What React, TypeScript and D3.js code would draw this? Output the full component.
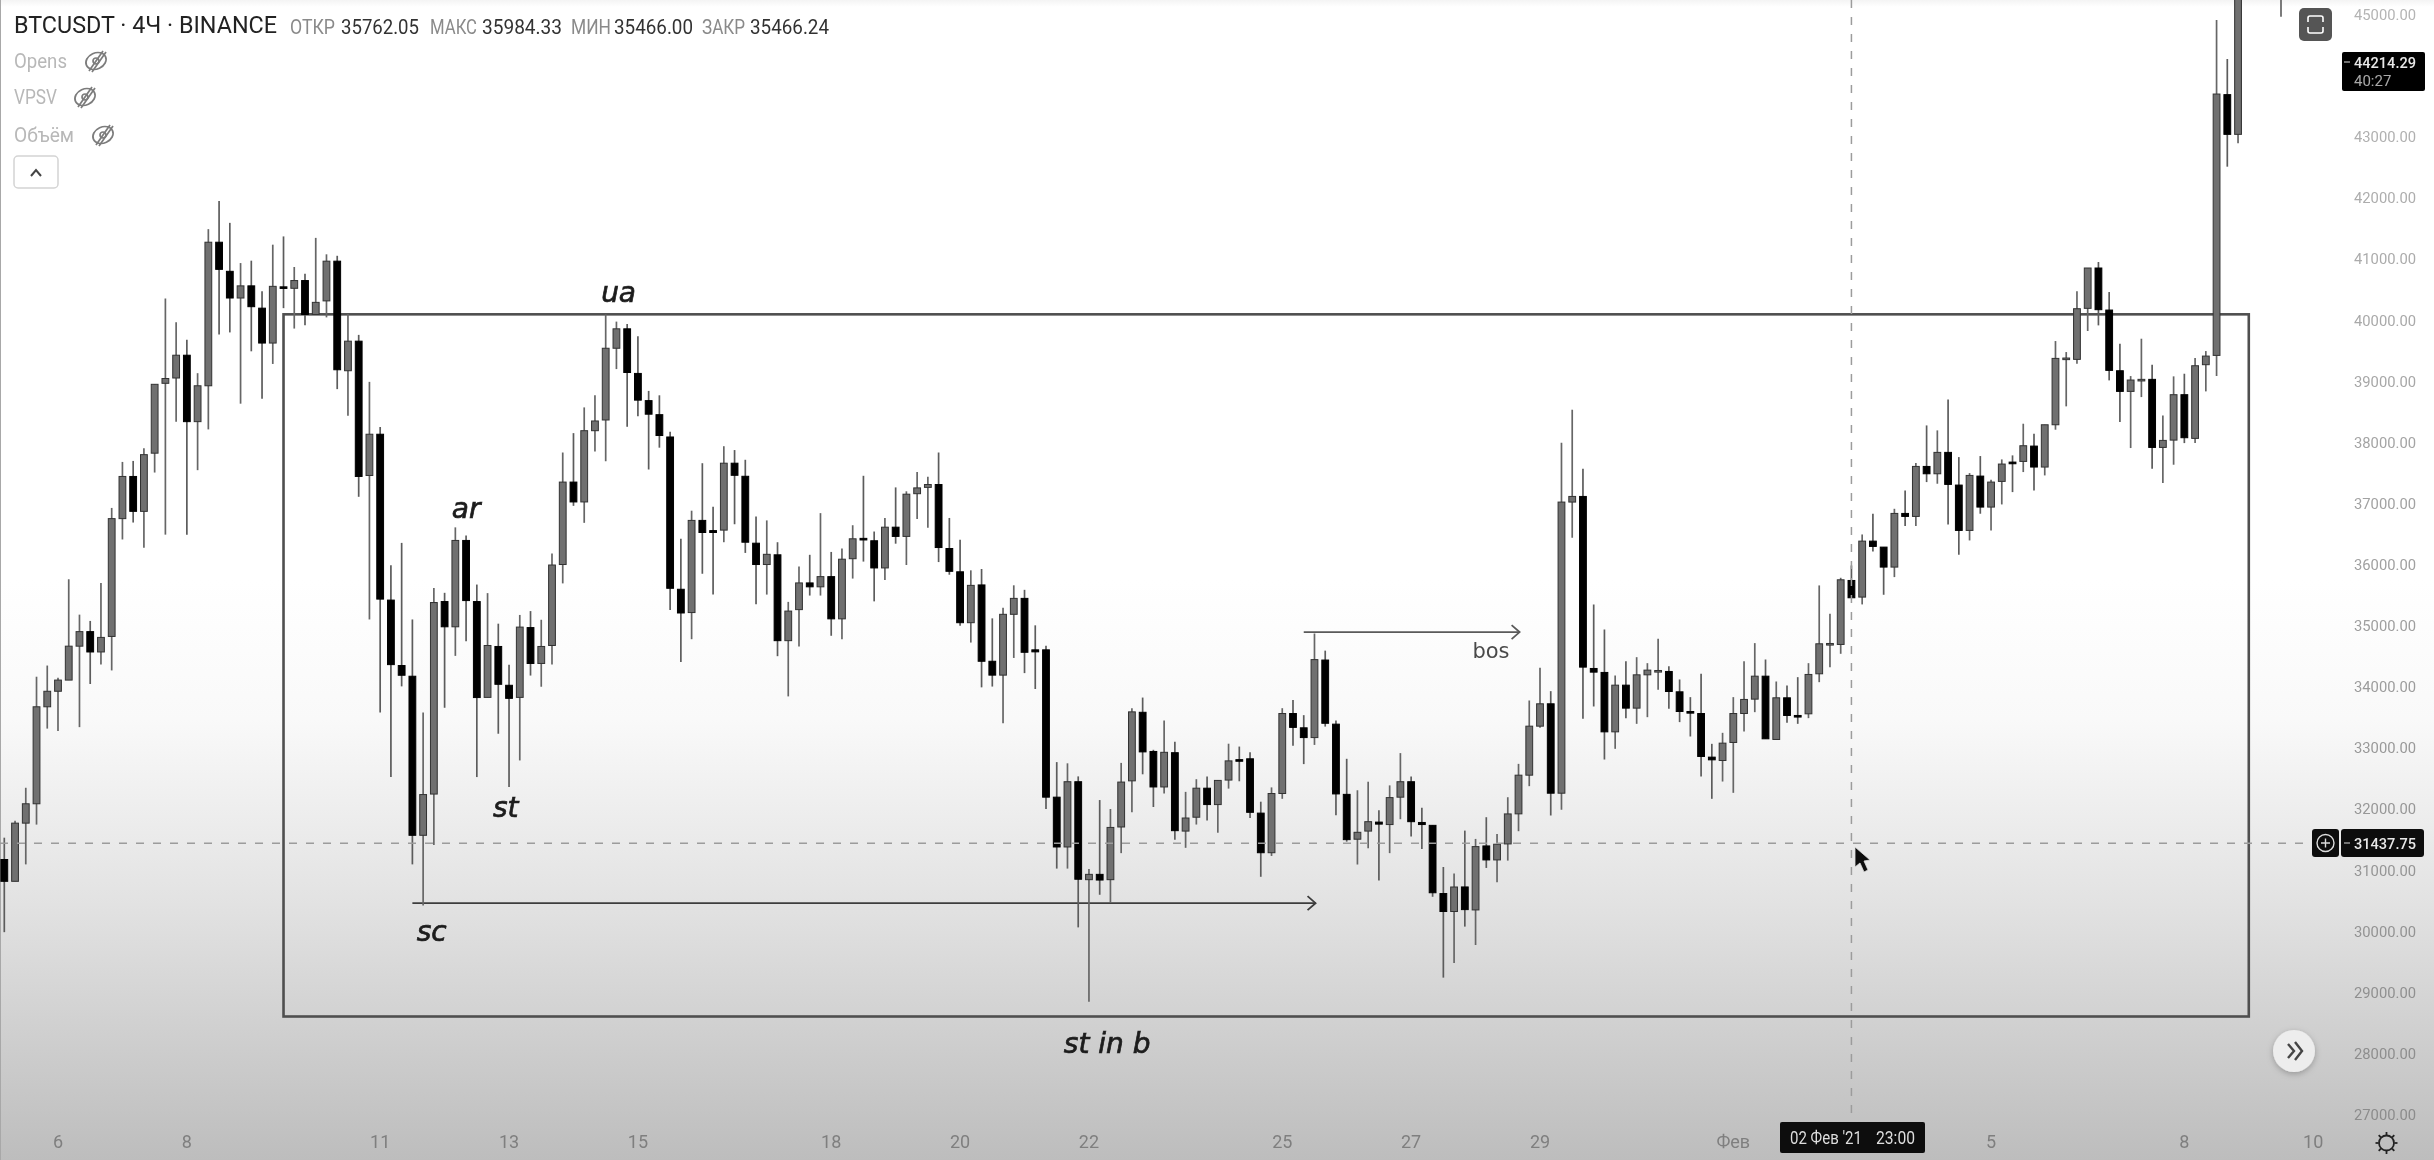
import * as d3 from "d3";

const WIDTH = 2434;
const HEIGHT = 1160;

// 4h candles, one value per bar
const opens = [
  31189, 30832, 31784, 32101, 33688, 33942, 34125, 34680, 34918, 34585,
  34839, 36767, 37457, 36886, 37838, 38981, 39068, 39441, 38354, 38941,
  41290, 40814, 40377, 40576, 40211, 39640, 40560, 40536, 40663, 40108,
  40330, 40980, 39187, 39671, 37473, 38148, 35434, 34363, 34188, 31585,
  32260, 35410, 34997, 36410, 35410, 33842, 34675, 34040, 33842, 34984,
  34397, 34691, 36016, 37365, 37040, 38206, 38381, 39555, 39873, 39143,
  38698, 38468, 38103, 35611, 35230, 36738, 36571, 36579, 37674, 37460,
  36365, 36016, 36175, 34770, 35278, 35715, 35651, 35818, 35127, 36111,
  36444, 36405, 35960, 36627, 36476, 37175, 37278, 37325, 36278, 35897,
  35064, 35682, 34433, 34206, 35201, 35462, 34620, 34620, 32209, 31394,
  32462, 30859, 30946, 30859, 31721, 32476, 33598, 32957, 32376, 32937,
  31654, 31881, 32356, 32088, 32489, 32823, 32837, 31948, 31300, 32269,
  33578, 33344, 33184, 34453, 33404, 32255, 31521, 31654, 31801, 31761,
  32209, 32462, 31795, 31748, 30632, 30338, 30740, 30364, 31411, 31182,
  31444, 31936, 32569, 33371, 33737, 32274, 37038, 37130, 34315, 34250,
  33278, 34042, 33666, 34211, 34266, 34266, 33933, 33611, 33578, 32864,
  32809, 33104, 33578, 33813, 34189, 33153, 33835, 33546, 33573, 34228,
  34713, 34708, 35755, 35483, 36399, 36301, 35974, 36852, 36803, 37621,
  37501, 37851, 37316, 36574, 37463, 36956, 37376, 37692, 37703, 37954,
  37611, 38303, 39378, 39373, 40208, 40868, 40180, 39187, 38849, 39035,
  39046, 37932, 38052, 38795, 38080, 39286, 39438, 43705, 43055, 46400,
  47000, 47200, 46800,
];
const highs = [
  31546, 31823, 32363, 34180, 34363, 34164, 35775, 35196, 35093, 35712,
  36942, 37695, 37711, 37918, 38965, 40369, 39981, 39695, 39147, 41504,
  41964, 41607, 40949, 40988, 40489, 41250, 41385, 40885, 40774, 41361,
  41092, 41068, 40115, 39774, 39005, 38267, 36005, 36370, 35117, 33593,
  35632, 35553, 36624, 36489, 35688, 35548, 35048, 34374, 35191, 35254,
  35112, 36198, 37849, 38166, 38587, 38785, 40111, 39991, 39952, 39753,
  38857, 38785, 38190, 36437, 36897, 37674, 36960, 37952, 37889, 37730,
  36802, 36738, 36381, 35405, 35984, 36175, 36857, 36222, 36278, 36659,
  37468, 36556, 36778, 37278, 37214, 37532, 37452, 37849, 36778, 36421,
  35921, 35943, 35135, 35308, 35676, 35602, 35021, 34687, 32783, 32763,
  32549, 31033, 32162, 32015, 32770, 33665, 33839, 32984, 33465, 33117,
  32296, 32503, 32549, 32483, 33084, 33037, 32943, 32135, 32369, 33665,
  33798, 33551, 34887, 34607, 33465, 32837, 32322, 32462, 31995, 32402,
  32930, 32549, 32035, 31748, 31066, 30959, 31662, 31526, 31881, 31608,
  32208, 32754, 33791, 34326, 33944, 38009, 38549, 37583, 35362, 34953,
  34200, 34435, 34500, 34402, 34800, 34353, 34135, 33846, 34228, 33082,
  33262, 33846, 34435, 34730, 34462, 34102, 34037, 34173, 34402, 35674,
  35210, 35799, 36001, 36508, 36847, 36301, 36928, 37229, 37676, 38292,
  38211, 38718, 37774, 37512, 37791, 37403, 37736, 37802, 38320, 38156,
  38303, 39673, 39493, 40486, 40868, 40966, 40475, 39629, 39100, 39711,
  39285, 38456, 39095, 39138, 39395, 39509, 44927, 44288, 46800, 47300,
  47600, 47500, 47100,
];
const lows = [
  30000, 30832, 31109, 31760, 33331, 33292, 34125, 33355, 34061, 34378,
  34283, 36426, 36703, 36291, 37521, 36505, 38354, 36505, 37560, 38227,
  39782, 39814, 38648, 39505, 38727, 39298, 40211, 39877, 39933, 40108,
  40060, 38886, 38449, 37124, 35117, 33593, 32538, 34022, 31109, 30435,
  31427, 33672, 34521, 34759, 32538, 33842, 33247, 32374, 32810, 34199,
  34016, 34382, 35707, 36976, 36698, 37865, 37706, 39214, 38270, 38444,
  37571, 37928, 35270, 34421, 34794, 35865, 35524, 36381, 36675, 36206,
  35365, 35524, 34516, 33858, 34675, 35508, 35508, 34850, 34794, 35786,
  36064, 35413, 35762, 36357, 36008, 36762, 36619, 36056, 35849, 35016,
  34739, 34006, 34019, 33418, 34487, 34239, 33979, 32015, 31040, 31040,
  30078, 28862, 30612, 30492, 31293, 31962, 32583, 32048, 32269, 31514,
  31380, 31761, 31828, 31627, 32349, 32469, 31868, 30906, 31247, 32182,
  33050, 32750, 33064, 33364, 31915, 31481, 31107, 31373, 30846, 31293,
  31848, 31567, 31360, 30579, 29256, 29496, 30091, 29790, 31051, 30817,
  31171, 31652, 32389, 33345, 31909, 32002, 36454, 33491, 33693, 32825,
  33000, 33502, 33409, 33518, 33966, 33655, 33437, 33202, 32547, 32182,
  32465, 32280, 33284, 33600, 33164, 33153, 33426, 33409, 33502, 34091,
  34337, 34555, 35472, 35363, 36230, 35521, 35810, 36645, 36645, 37365,
  37338, 36672, 36176, 36410, 36847, 36574, 36999, 37201, 37529, 37229,
  37474, 38222, 38604, 39302, 39837, 39929, 39029, 38347, 37922, 38756,
  37583, 37349, 37649, 38003, 38003, 38849, 39100, 42526, 42908, 46100,
  46500, 46300, 44981,
];
const closes = [
  30832, 31784, 32101, 33688, 33942, 34125, 34680, 34918, 34585, 34823,
  36767, 37457, 36886, 37814, 38965, 39060, 39441, 38354, 38941, 41290,
  40846, 40377, 40576, 40235, 39640, 40568, 40536, 40663, 40108, 40306,
  40980, 39203, 39671, 37457, 38148, 35450, 34378, 34204, 31585, 32252,
  35394, 34997, 36410, 35426, 33839, 34691, 34056, 33826, 34992, 34397,
  34675, 36008, 37365, 37040, 38206, 38365, 39555, 39873, 39158, 38706,
  38476, 38127, 35627, 35223, 36738, 36540, 36540, 37674, 37476, 36381,
  36016, 36183, 34770, 35254, 35715, 35651, 35818, 35127, 36103, 36437,
  36421, 35960, 36627, 36476, 37167, 37270, 37325, 36294, 35905, 35064,
  35675, 34433, 34206, 35201, 35462, 34580, 34587, 32209, 31394, 32462,
  30866, 30946, 30853, 31714, 32456, 33605, 32950, 32376, 32943, 31661,
  31868, 32356, 32088, 32483, 32803, 32803, 31961, 31300, 32269, 33578,
  33351, 33184, 34460, 33418, 32262, 31514, 31634, 31808, 31768, 32202,
  32462, 31808, 31761, 30645, 30338, 30739, 30369, 31400, 31182, 31439,
  31935, 32569, 33371, 33737, 32274, 37038, 37130, 34337, 34255, 33278,
  34042, 33666, 34211, 34288, 34282, 33938, 33611, 33584, 32875, 32820,
  33093, 33578, 33808, 34189, 33164, 33835, 33546, 33529, 34217, 34719,
  34724, 35766, 35472, 36399, 36312, 35974, 36852, 36803, 37621, 37501,
  37851, 37327, 36574, 37474, 36956, 37365, 37660, 37665, 37960, 37611,
  38303, 39389, 39395, 40202, 40868, 40186, 39193, 38849, 39035, 39046,
  37932, 38047, 38795, 38091, 39269, 39427, 43715, 43055, 46500, 47000,
  47200, 46800, 46900,
];

const priceTicks = [45000, 43000, 42000, 41000, 40000, 39000, 38000, 37000, 36000, 35000, 34000, 33000, 32000, 31000, 30000, 29000, 28000, 27000];
const timeTicks: [number, string][] = [[5, "6"], [17, "8"], [35, "11"], [47, "13"], [59, "15"], [77, "18"], [89, "20"], [101, "22"], [119, "25"], [131, "27"], [143, "29"], [161, "Фев"], [185, "5"], [203, "8"], [215, "10"]];

const ohlcHeader = [
  { label: "ОТКР", lx: 290, lw: 45, value: "35762.05", vx: 341, vw: 78 },
  { label: "МАКС", lx: 430, lw: 47, value: "35984.33", vx: 482, vw: 80 },
  { label: "МИН", lx: 571, lw: 40, value: "35466.00", vx: 614, vw: 79 },
  { label: "ЗАКР", lx: 702, lw: 43, value: "35466.24", vx: 750, vw: 79 },
];
const legendRows = [
  { name: "Opens", y: 61, w: 53, icon: 96 },
  { name: "VPSV", y: 97, w: 43, icon: 85 },
  { name: "Объём", y: 135, w: 60, icon: 103 },
];

// wyckoff range and markup notes, in candle index / price
const rangeBox = { i0: 26, i1: 209, top: 40110, bottom: 28620 };
const scArrow = { i0: 38, i1: 122.1, price: 30475 };
const bosArrow = { i0: 121, i1: 141.1, price: 34910 };
const notes = [
  { text: "ua", i: 57.2, price: 40320 },
  { text: "ar", i: 43, price: 36780 },
  { text: "st", i: 46.7, price: 31884 },
  { text: "sc", i: 39.8, price: 29851 },
  { text: "st in b", i: 102.7, price: 28030 },
];
const crossPrice = 31437.75;
const crossIndex = 172;

const x = d3.scaleLinear().domain([0, 212]).range([4.3, 2281]);
const y = d3.scaleLinear().domain([27000, 45000]).range([1115.5, 15.5]);

const NARROW = "'Liberation Sans Narrow', Roboto, sans-serif";
const SANS = "Roboto, sans-serif";
const NOTE = "'DejaVu Sans', sans-serif";

const bars = opens.map((o, i) => ({ i, o, h: highs[i], l: lows[i], c: closes[i] }));

function Arrow({ a, color }: { a: { i0: number; i1: number; price: number }; color: string }) {
  const ex = x(a.i1);
  const ey = y(a.price);
  return (
    <g fill="none" stroke={color} strokeWidth={1.8}>
      <line x1={x(a.i0)} x2={ex} y1={ey} y2={ey} />
      <path d={`M${ex - 8},${ey - 7}L${ex},${ey}L${ex - 8},${ey + 7}`} />
    </g>
  );
}

function EyeOff({ cx, cy }: { cx: number; cy: number }) {
  return (
    <g fill="none" stroke="#7c7c7c" strokeWidth={1.7} transform={`translate(${cx},${cy})`}>
      <ellipse cx={0} cy={0} rx={10.5} ry={8} transform="rotate(-25)" />
      <circle r={3} />
      <line x1={-7} y1={10} x2={7} y2={-10} />
      <line x1={-4} y1={11} x2={10} y2={-9} />
    </g>
  );
}

export default function App() {
  const axisColor = d3.scaleLinear<string>().domain([15, 1115]).range(["#b4b4b4", "#8c8c8c"]);
  return (
    <svg width={WIDTH} height={HEIGHT} style={{ position: "absolute", left: 0, top: 0, display: "block" }}>
      <defs>
        <linearGradient id="bg" x1="0" y1="0" x2="0" y2="1">
          <stop offset="0" stopColor="#f4f4f4" />
          <stop offset="0.006" stopColor="#ffffff" />
          <stop offset="0.5" stopColor="#ffffff" />
          <stop offset="0.62" stopColor="#f9f9f9" />
          <stop offset="0.69" stopColor="#efefef" />
          <stop offset="0.78" stopColor="#e2e2e2" />
          <stop offset="0.875" stopColor="#d2d2d2" />
          <stop offset="1" stopColor="#bdbdbd" />
        </linearGradient>
        <filter id="soft" x="0" y="0" width="100%" height="100%" filterUnits="userSpaceOnUse">
          <feGaussianBlur stdDeviation="0.55" />
        </filter>
        <filter id="shadow" x="-40%" y="-40%" width="180%" height="180%">
          <feDropShadow dx="0" dy="2" stdDeviation="3" floodColor="#000" floodOpacity="0.25" />
        </filter>
      </defs>
      <rect width={WIDTH} height={HEIGHT} fill="url(#bg)" />
      <line x1={0.5} x2={0.5} y1={0} y2={HEIGHT} stroke="#a8a8a8" />

      <g filter="url(#soft)">
        {/* range box and arrows sit under the candles */}
        <rect
          x={x(rangeBox.i0)}
          y={y(rangeBox.top)}
          width={x(rangeBox.i1) - x(rangeBox.i0)}
          height={y(rangeBox.bottom) - y(rangeBox.top)}
          fill="none"
          stroke="#4f4f4f"
          strokeWidth={2.6}
        />
        <Arrow a={scArrow} color="#3c3c3c" />
        <Arrow a={bosArrow} color="#5a5a5a" />

        {bars.map((d) => {
          const up = d.c >= d.o;
          const top = y(Math.max(d.o, d.c));
          const bot = y(Math.min(d.o, d.c));
          return (
            <g key={d.i}>
              <line x1={x(d.i)} x2={x(d.i)} y1={y(d.h)} y2={y(d.l)} stroke={up ? "#666" : "#5c5c5c"} strokeWidth={1.7} />
              <rect
                x={x(d.i) - 3.4}
                y={top}
                width={6.8}
                height={Math.max(bot - top, 1.6)}
                fill={up ? "#6f6f6f" : "#000"}
                stroke={up ? "#333" : "#000"}
                strokeWidth={1}
              />
            </g>
          );
        })}

        {/* crosshair */}
        <line x1={0} x2={2312} y1={y(crossPrice) - 1} y2={y(crossPrice) - 1} stroke="#9c9c9c" strokeWidth={1.5} strokeDasharray="8 9" />
        <line x1={x(crossIndex)} x2={x(crossIndex)} y1={0} y2={1122} stroke="#9c9c9c" strokeWidth={1.5} strokeDasharray="8 9" />

        {notes.map((n) => (
          <text
            key={n.text}
            x={x(n.i)}
            y={y(n.price)}
            textAnchor="middle"
            fontFamily={NOTE}
            fontStyle="italic"
            fontSize={28}
            fill="#1c1c1c"
            stroke="#1c1c1c"
            strokeWidth={0.7}
          >
            {n.text}
          </text>
        ))}
        <text x={1491} y={y(bosArrow.price) + 26} textAnchor="middle" fontFamily={NOTE} fontSize={21} fill="#4a4a4a">
          bos
        </text>

        {/* header */}
        <text x={14} y={33} fontFamily={NARROW} fontSize={24} fill="#222" textLength={263} lengthAdjust="spacingAndGlyphs">
          BTCUSDT · 4Ч · BINANCE
        </text>
        {ohlcHeader.map((h) => (
          <g key={h.label} fontFamily={NARROW} fontSize={20}>
            <text x={h.lx} y={34} fill="#8a8a8a" textLength={h.lw} lengthAdjust="spacingAndGlyphs">
              {h.label}
            </text>
            <text x={h.vx} y={34} fill="#333" textLength={h.vw} lengthAdjust="spacingAndGlyphs">
              {h.value}
            </text>
          </g>
        ))}
        {legendRows.map((r) => (
          <g key={r.name}>
            <text x={14} y={r.y + 7} fontFamily={NARROW} fontSize={20} fill="#b8b8b8" textLength={r.w} lengthAdjust="spacingAndGlyphs">
              {r.name}
            </text>
            <EyeOff cx={r.icon} cy={r.y} />
          </g>
        ))}
        <rect x={14} y={156} width={44} height={32} rx={4} fill="#fff" stroke="#d4d4d4" strokeWidth={1.5} />
        <path d="M31,176L36,170L41,176" fill="none" stroke="#444" strokeWidth={2} />

        {/* price axis */}
        {priceTicks.map((t) => (
          <text key={t} x={2354} y={y(t) + 4.5} fontFamily={SANS} fontSize={15.5} fill={axisColor(y(t))} textLength={62} lengthAdjust="spacingAndGlyphs">
            {t.toFixed(2)}
          </text>
        ))}

        {/* time axis */}
        {timeTicks.map(([i, label]) => (
          <text key={label + i} x={x(i)} y={1148} textAnchor="middle" fontFamily={NARROW} fontSize={18} fill="#7f7f7f">
            {label}
          </text>
        ))}

        {/* fullscreen button */}
        <rect x={2299} y={8} width={33} height={33} rx={5} fill="#555" />
        <path d="M2308,22V18Q2308,16 2310,16H2321Q2323,16 2323,18V22M2308,27V31Q2308,33 2310,33H2321Q2323,33 2323,31V27" fill="none" stroke="#fff" strokeWidth={1.6} />

        {/* last price */}
        <rect x={2342} y={52} width={83} height={39} rx={2} fill="#050505" />
        <line x1={2344} x2={2350} y1={62} y2={62} stroke="#bbb" strokeWidth={1.2} />
        <text x={2354} y={68} fontFamily={SANS} fontSize={15} fontWeight={500} fill="#e8e8e8" textLength={62} lengthAdjust="spacingAndGlyphs">
          44214.29
        </text>
        <text x={2354} y={86} fontFamily={SANS} fontSize={15} fill="#a8a8a8">
          40:27
        </text>

        {/* crosshair price label */}
        <rect x={2312} y={829} width={27} height={28} rx={3} fill="#0c0c0c" />
        <rect x={2341} y={829} width={83} height={28} rx={3} fill="#0c0c0c" />
        <circle cx={2325.5} cy={843} r={8.5} fill="none" stroke="#ddd" strokeWidth={1.4} />
        <path d="M2321,843H2330M2325.5,838.5V847.5" stroke="#ddd" strokeWidth={1.4} />
        <line x1={2344} x2={2350} y1={843} y2={843} stroke="#bbb" strokeWidth={1.2} />
        <text x={2354} y={849} fontFamily={SANS} fontSize={15} fontWeight={500} fill="#e8e8e8" textLength={62} lengthAdjust="spacingAndGlyphs">
          31437.75
        </text>

        {/* crosshair date label */}
        <rect x={1780} y={1122} width={145} height={31} rx={2} fill="#0c0c0c" />
        <text x={1790} y={1144} fontFamily={NARROW} fontSize={18} fill="#ddd" textLength={72} lengthAdjust="spacingAndGlyphs">
          02 Фев '21
        </text>
        <text x={1876} y={1144} fontFamily={NARROW} fontSize={18} fill="#ddd" textLength={39} lengthAdjust="spacingAndGlyphs">
          23:00
        </text>

        {/* scroll to realtime */}
        <circle cx={2294} cy={1051} r={21} fill="#ededed" filter="url(#shadow)" />
        <path d="M2288,1044L2294,1051L2288,1058M2295,1042L2302,1051L2295,1060" fill="none" stroke="#444" strokeWidth={2.4} />

        {/* settings icon */}
        <g fill="none" stroke="#222" strokeWidth={1.8} transform="translate(2386.5,1143)">
          <circle r={7.5} />
          {d3.range(8).map((k) => (
            <line key={k} x1={0} x2={0} y1={-8} y2={-11} transform={`rotate(${k * 45})`} />
          ))}
        </g>

        {/* mouse cursor */}
        <path
          d="M1855,847L1855,867L1860,863L1864,872L1868,870L1864,861L1870,860Z"
          fill="#111"
          stroke="#ddd"
          strokeWidth={0.8}
        />
      </g>
    </svg>
  );
}
